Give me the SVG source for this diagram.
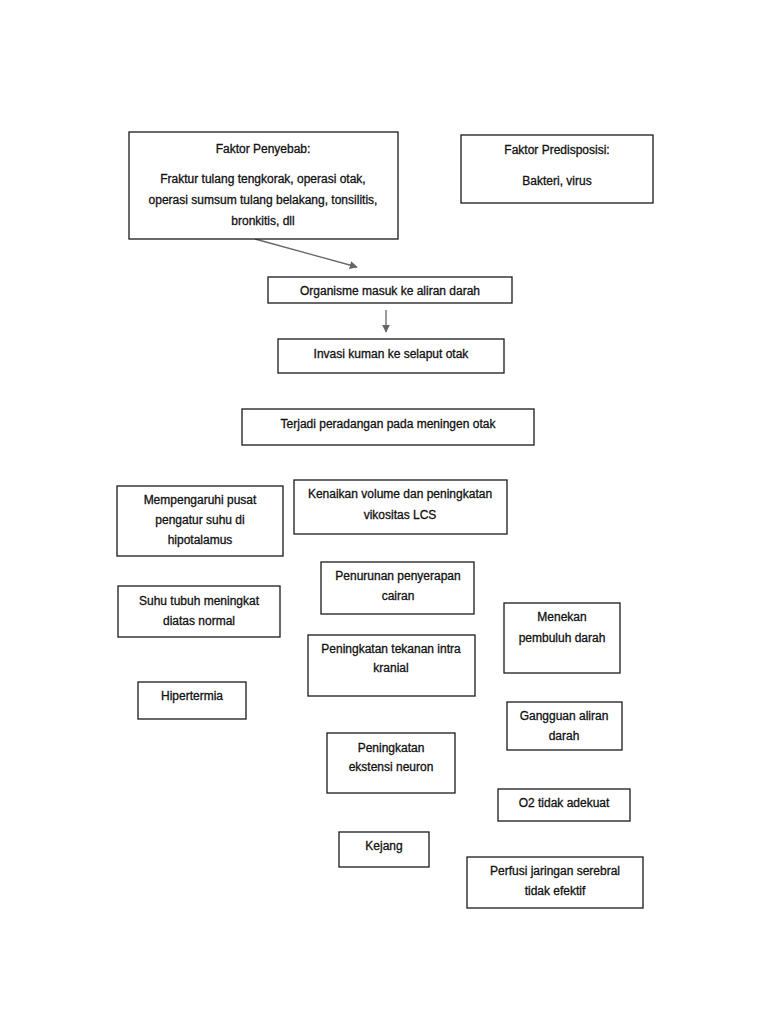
<svg xmlns="http://www.w3.org/2000/svg" width="768" height="1024" viewBox="0 0 768 1024">
<style>
.b{fill:#fff;stroke:#1a1a1a;stroke-width:1.3}
text{font-family:"Liberation Sans",Arial,sans-serif;font-size:12px;fill:#111;stroke:#111;stroke-width:0.3;text-anchor:middle;dominant-baseline:central}
.c{stroke:#666;stroke-width:1.3;fill:none}
</style>
<defs>
<marker id="ah" viewBox="0 0 10 10" refX="9" refY="5" markerWidth="8" markerHeight="8" orient="auto" markerUnits="userSpaceOnUse">
<path d="M0,0 L10,5 L0,10 z" fill="#666"/>
</marker>
</defs>
<rect width="768" height="1024" fill="#fff"/>
<g id="connectors">
<line class="c" x1="255" y1="239" x2="357" y2="267" marker-end="url(#ah)"/>
<line class="c" x1="386" y1="310" x2="386" y2="332" marker-end="url(#ah)"/>
</g>
<g id="n1"><rect class="b" x="129" y="132" width="269" height="107"/>
<text x="263" y="149">Faktor Penyebab:</text>
<text x="263" y="179">Fraktur tulang tengkorak, operasi otak,</text>
<text x="263" y="200">operasi sumsum tulang belakang, tonsilitis,</text>
<text x="263" y="221">bronkitis, dll</text></g>
<g id="n2"><rect class="b" x="461" y="135" width="192" height="68"/>
<text x="557" y="150">Faktor Predisposisi:</text>
<text x="557" y="181">Bakteri, virus</text></g>
<g id="n3"><rect class="b" x="268" y="277" width="244" height="26"/>
<text x="390" y="291">Organisme masuk ke aliran darah</text></g>
<g id="n4"><rect class="b" x="278" y="339" width="226" height="34"/>
<text x="391" y="354">Invasi kuman ke selaput otak</text></g>
<g id="n5"><rect class="b" x="242" y="409" width="292" height="36"/>
<text x="388" y="424">Terjadi peradangan pada meningen otak</text></g>
<g id="n6"><rect class="b" x="117" y="486" width="166" height="70"/>
<text x="200" y="500">Mempengaruhi pusat</text>
<text x="200" y="520">pengatur suhu di</text>
<text x="200" y="540">hipotalamus</text></g>
<g id="n7"><rect class="b" x="294" y="480" width="213" height="54"/>
<text x="400" y="494">Kenaikan volume dan peningkatan</text>
<text x="400" y="515">vikositas LCS</text></g>
<g id="n8"><rect class="b" x="321" y="562" width="153" height="52"/>
<text x="398" y="576">Penurunan penyerapan</text>
<text x="398" y="596">cairan</text></g>
<g id="n9"><rect class="b" x="118" y="586" width="162" height="51"/>
<text x="199" y="601">Suhu tubuh meningkat</text>
<text x="199" y="621">diatas normal</text></g>
<g id="n10"><rect class="b" x="504" y="603" width="116" height="70"/>
<text x="562" y="617">Menekan</text>
<text x="562" y="638">pembuluh darah</text></g>
<g id="n11"><rect class="b" x="308" y="635" width="167" height="61"/>
<text x="391" y="649">Peningkatan tekanan intra</text>
<text x="391" y="668">kranial</text></g>
<g id="n12"><rect class="b" x="138" y="682" width="108" height="37"/>
<text x="192" y="696">Hipertermia</text></g>
<g id="n13"><rect class="b" x="507" y="702" width="115" height="48"/>
<text x="564" y="716">Gangguan aliran</text>
<text x="564" y="736">darah</text></g>
<g id="n14"><rect class="b" x="327" y="733" width="128" height="60"/>
<text x="391" y="748">Peningkatan</text>
<text x="391" y="767">ekstensi neuron</text></g>
<g id="n15"><rect class="b" x="498" y="789" width="132" height="32"/>
<text x="564" y="803">O2 tidak adekuat</text></g>
<g id="n16"><rect class="b" x="339" y="832" width="90" height="35"/>
<text x="384" y="846">Kejang</text></g>
<g id="n17"><rect class="b" x="467" y="857" width="176" height="51"/>
<text x="555" y="871">Perfusi jaringan serebral</text>
<text x="555" y="891">tidak efektif</text></g>
</svg>
